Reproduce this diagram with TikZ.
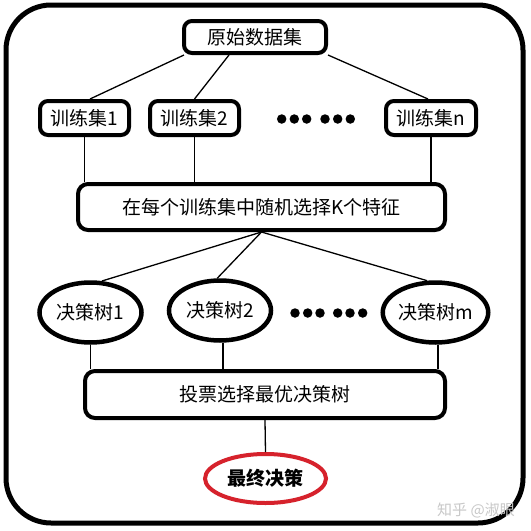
\documentclass[tikz,border=0pt]{standalone}
\usepackage{fontspec}
\setmainfont{Noto Sans CJK SC}
\usetikzlibrary{shapes.geometric}
\definecolor{finred}{RGB}{214,34,44}
\definecolor{wmgray}{RGB}{200,200,200}
\tikzset{
  lbl/.style={font=\fontsize{19}{22}\selectfont, text=black},
  rbox/.style={lbl, draw, line width=4pt, rounded corners=8pt, inner sep=0pt, fill=white},
  tree/.style={lbl, ellipse, draw, line width=4.5pt, inner sep=0pt, minimum width=102pt, minimum height=60pt},
  conn/.style={line width=1.3pt, black},
  dot/.style={circle, fill=black, inner sep=0pt, minimum size=9.5pt}
}
\begin{document}
\begin{tikzpicture}[x=1pt,y=-1pt]
\useasboundingbox (0,0) rectangle (531,531);
\fill[white] (0,0) rectangle (531,531);
% outer frame
\draw[line width=5pt, rounded corners=45pt] (6,5) rectangle (523,523);

% top
\node[rbox, minimum width=142pt, minimum height=32pt] (orig) at (255,37) {原始数据集};
\node[rbox, minimum width=89pt, minimum height=34pt] (t1) at (84.5,118) {训练集1};
\node[rbox, minimum width=89pt, minimum height=34pt] (t2) at (194.5,118) {训练集2};
\node[rbox, minimum width=90pt, minimum height=34pt] (tn) at (431,118) {训练集n};
\foreach \i/\x in {1/281.7,2/294.3,3/306.7,4/325,5/337.7,6/350.3}
  \node[dot] (da\i) at (\x,119) {};

\node[rbox, rounded corners=10pt, minimum width=367pt, minimum height=46pt] (big) at (261.5,207) {在每个训练集中随机选择K个特征};

\node[tree] (d1) at (90.5,312.5) {决策树1};
\node[tree] (d2) at (220,310.5) {决策树2};
\node[tree] (dm) at (435.5,312.5) {决策树m};
\foreach \i/\x in {1/295,2/307.7,3/320,4/337.7,5/350,6/362.7}
  \node[dot] (db\i) at (\x,313) {};

\node[rbox, rounded corners=10pt, minimum width=360pt, minimum height=47pt] (vote) at (265,394.5) {投票选择最优决策树};

\node[lbl, font=\fontsize{19}{22}\selectfont\bfseries, ellipse, draw=finred, line width=4pt, inner sep=0pt, minimum width=121pt, minimum height=49pt] (fin) at (265.5,478.5) {最终决策};

% connectors
\draw[conn] ([xshift=2pt]orig.south west) -- ([xshift=5.5pt]t1.north);
\draw[conn] ([xshift=-26pt]orig.south) -- (t2.north);
\draw[conn] (orig.south east) -- ([xshift=-3pt]tn.north);
\draw[conn] (t1.south) -- (t1.south |- big.north);
\draw[conn] (t2.south) -- (t2.south |- big.north);
\draw[conn] (tn.south) -- (tn.south |- big.north);
\draw[conn] (big.south) -- (d1.70);
\draw[conn] (big.south) -- (d2.95);
\draw[conn] (big.south) -- (dm.105);
\draw[conn] (d1.south) -- (d1.south |- vote.north);
\draw[conn] ([xshift=3pt]d2.south) -- ([xshift=3pt]d2.south |- vote.north);
\draw[conn] ([xshift=2.5pt]dm.south) -- ([xshift=2.5pt]dm.south |- vote.north);
\draw[conn] (vote.south) -- (fin.north);

% watermark
\node[font=\fontsize{15}{17}\selectfont, text=wmgray, anchor=center] (wm) at (476,510) {知乎 @淑眼};
\end{tikzpicture}
\end{document}
